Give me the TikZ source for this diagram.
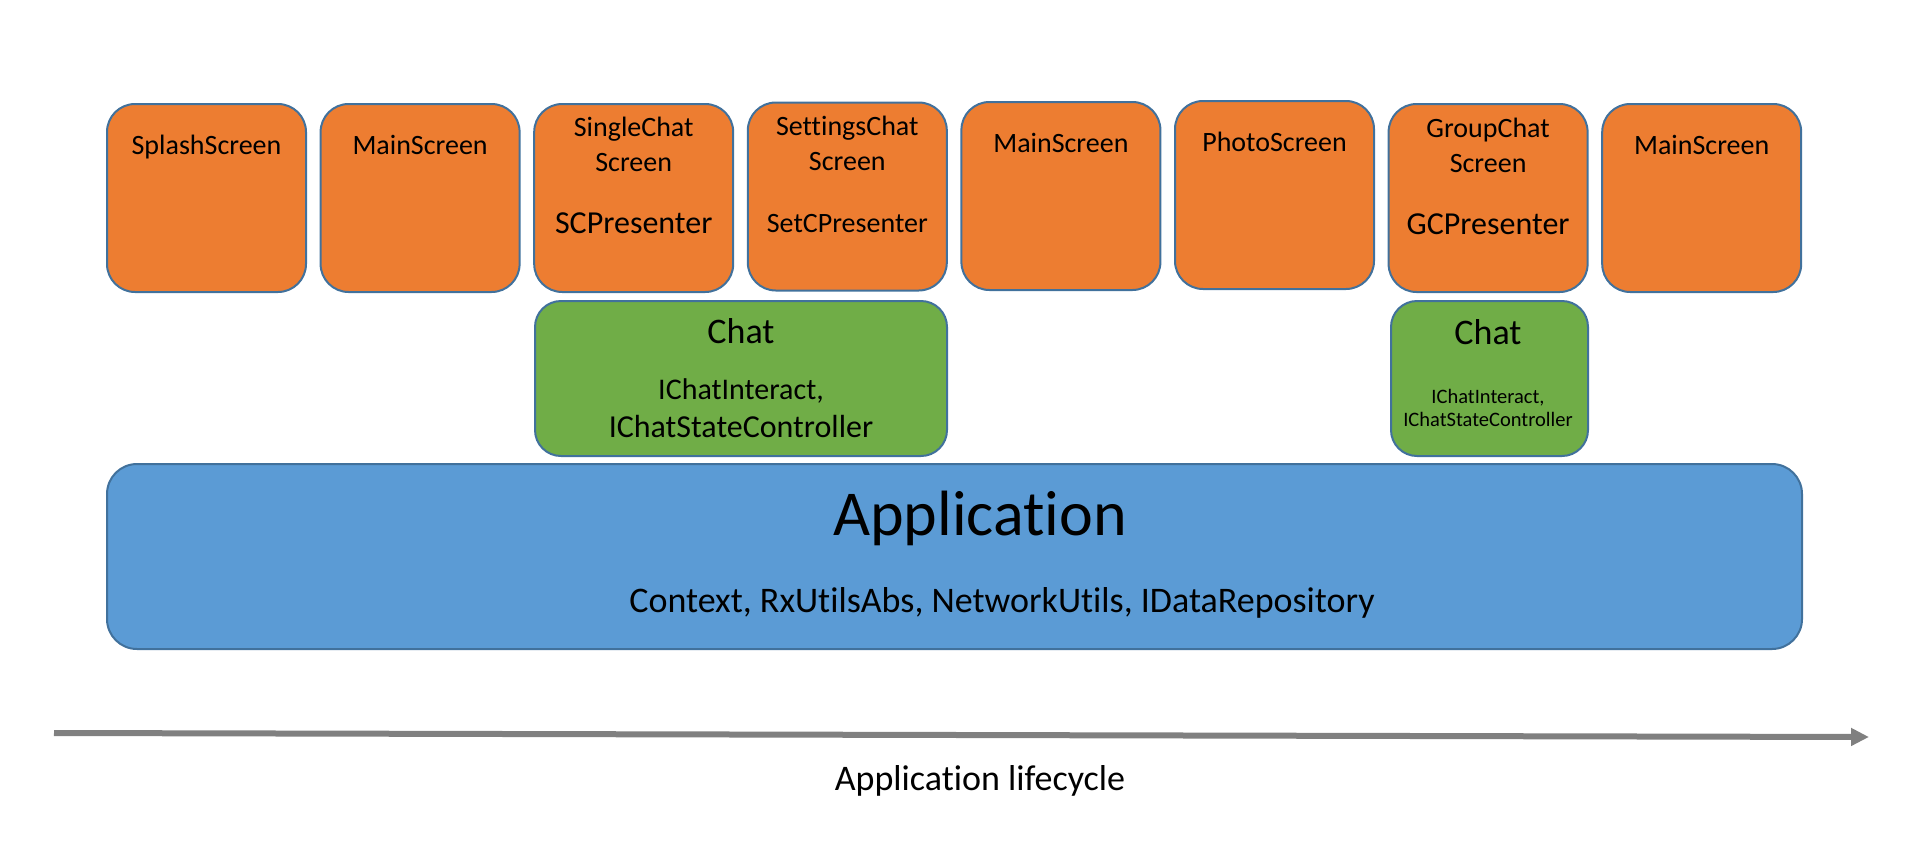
\documentclass[tikz,border=0pt]{standalone}
\usepackage{fontspec}
\setmainfont{Carlito}[Ligatures={NoCommon,NoContextual},Contextuals=NoAlternate]
\usepackage{tikz}
\usetikzlibrary{arrows.meta,calc}
\definecolor{scrorange}{HTML}{ED7D31}
\definecolor{chatgreen}{HTML}{70AD47}
\definecolor{appblue}{HTML}{5B9BD5}
\definecolor{boxline}{HTML}{41719C}
\definecolor{lifegray}{HTML}{808080}
\newcommand{\fsz}[1]{\fontsize{#1}{#1}\selectfont}

\begin{document}
\begin{tikzpicture}[x=1pt,y=-1pt,
		box/.style={draw=boxline,line width=2pt,rounded corners=28pt,inner sep=0pt},
		screen/.style={box,fill=scrorange,minimum width=199pt,minimum height=188pt},
		chatbox/.style={box,fill=chatgreen,rounded corners=26pt,minimum height=155pt},
		txt/.style={anchor=base,inner sep=0pt,font=\fsz{28}}]
			\useasboundingbox (0,0) rectangle (1919,849);
			% screens
			\foreach \i/\yc/\ya/\la/\lb/\pr/\ps in {
				1/198/154/SplashScreen///28,
				2/198/154/MainScreen///28,
				3/198/136/SingleChat/Screen/SCPresenter/32,
				4/196.5/135/SettingsChat/Screen/SetCPresenter/28,
				5/196/152/MainScreen///28,
				6/195/151/PhotoScreen///28,
				7/198/137/GroupChat/Screen/GCPresenter/32,
				8/198/154/MainScreen///28} {
				\pgfmathsetmacro{\xc}{206.5+(\i-1)*213.6}
				\node[screen] (scr\i) at (\xc,\yc) {};
				\node[txt] (scr\i-a) at (\xc,\ya) {\la};
				\node[txt] (scr\i-b) at (\xc,\ya+35) {\lb};
				\node[txt,font=\fsz{\ps}] (scr\i-p) at (\xc,\ya+97) {\pr};
			}
			% chat features
			\node[chatbox,minimum width=412pt] (chatA) at (741,378.5) {};
			\node[txt,font=\fsz{36}] (chatA-t) at (741,343) {Chat};
			\node[txt,font=\fsz{30}] (chatA-a) at (741,399) {IChatInteract,};
			\node[txt,font=\fsz{32}] (chatA-b) at (741,437) {IChatStateController};
			\node[chatbox,minimum width=197pt] (chatB) at (1489.5,378.5) {};
			\node[txt,font=\fsz{36}] (chatB-t) at (1488,344) {Chat};
			\node[txt,font=\fsz{20.5}] (chatB-a) at (1488,403) {IChatInteract,};
			\node[txt,font=\fsz{20.5}] (chatB-b) at (1488,426) {IChatStateController};
			% application
			\node[box,fill=appblue,rounded corners=30pt,minimum width=1695pt,minimum height=185pt] (app) at (954.5,556.5) {};
			\node[txt,font=\fsz{64}] (app-t) at (980,535) {Application};
			\node[txt,font=\fsz{36}] (app-d) at (1002,612) {Context, RxUtilsAbs, NetworkUtils, IDataRepository};
			% lifecycle
			\coordinate (life0) at (54,733);
			\coordinate (life1) at (1869,737);
			\draw[lifegray,line width=6pt,-{Triangle[length=18pt,width=17pt]}] (life0) -- (life1);
			\node[txt,font=\fsz{36}] (life) at (980,790) {Application lifecycle};
		\end{tikzpicture}
\end{document}
